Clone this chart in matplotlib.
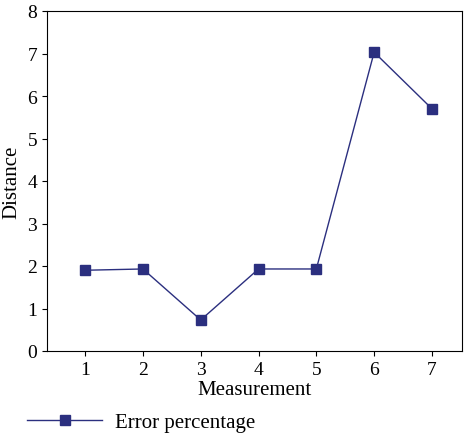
import matplotlib
matplotlib.use("Agg")
import matplotlib.pyplot as plt
from matplotlib.lines import Line2D

measurement = [1, 2, 3, 4, 5, 6, 7]
distance = [1.9, 1.93, 0.73, 1.93, 1.93, 7.03, 5.7]

plt.rcParams['font.family'] = ['Liberation Serif', 'DejaVu Serif']
color = "#2b2f7f"

fig = plt.figure(figsize=(4.74, 4.39), dpi=100)
ax = fig.add_axes([47/474, 1 - 352/439, 415/474, 340/439])
ax.plot(measurement, distance, color=color, marker="s", markersize=7, linewidth=1)
ax.set_xlim(0.34, 7.52)
ax.set_ylim(0, 8)
ax.set_xticks(measurement)
ax.set_yticks(range(9))
ax.tick_params(labelsize=14, direction="out")
ax.set_xlabel("Measurement", fontsize=15, labelpad=2)
ax.set_ylabel("Distance", fontsize=15, labelpad=4)

handle = Line2D([], [], color=color, marker="s", markersize=7, linewidth=1)
fig.legend([handle], ["Error percentage"], loc="center left",
           bbox_to_anchor=(0.04, 1 - 423/439), frameon=False, fontsize=15,
           handlelength=3.6, handletextpad=0.6, borderaxespad=0)

fig.savefig("out.png", dpi=100)
